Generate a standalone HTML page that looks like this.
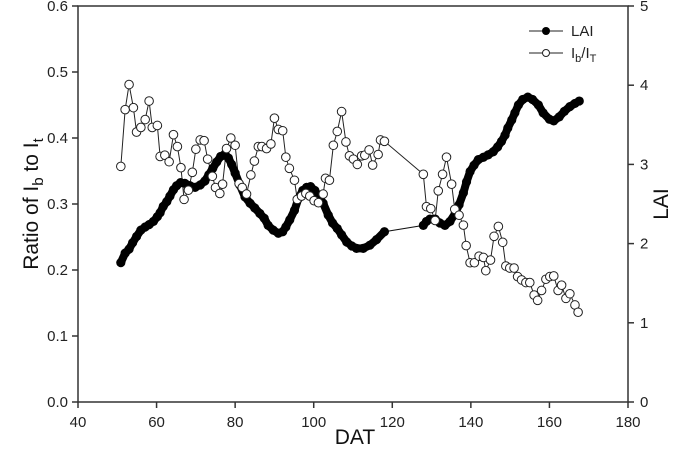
<!DOCTYPE html>
<html><head><meta charset="utf-8">
<style>
html,body{margin:0;padding:0;background:#fff;}
svg{display:block;font-family:"Liberation Sans",Arial,sans-serif;}
</style></head>
<body>
<svg id="chart" width="685" height="466" viewBox="0 0 685 466" xmlns="http://www.w3.org/2000/svg"></svg>
<script>
const xTicks=[40,60,80,100,120,140,160,180];
const yLeftTicks=["0.0","0.1","0.2","0.3","0.4","0.5","0.6"];
const yRightTicks=[0,1,2,3,4,5];
const ratioDays=[50.9,52,53,54.1,54.9,56,57.1,58.1,58.9,60.2,60.9,62.1,63.2,64.3,65.3,66.2,67,68.1,69.1,70,71.1,72.1,73,74.2,75,76.1,76.8,77.8,78.9,80,81,81.8,82.9,84,84.9,85.9,86.8,88,89.1,90,91,92.1,92.9,93.8,95.1,95.8,96.9,98,99,100.1,101.2,102.4,103,104,105,106,107.1,108.2,109.1,110.1,111.1,112.2,113,114.1,115,116.4,117,118,127.9,128.7,129.8,130.9,131.7,132.8,133.8,135.1,135.9,137,138.1,138.8,139.8,140.9,142.1,143.2,143.8,145,145.9,147,148.1,148.9,149.9,151,151.9,152.9,154,155,156.1,157,158,159.1,160.1,161.1,162.2,163.1,164.2,165.2,166.5,167.3];
const ratioValues=[0.357,0.443,0.481,0.446,0.409,0.416,0.428,0.456,0.416,0.419,0.372,0.374,0.364,0.405,0.387,0.355,0.307,0.321,0.348,0.383,0.397,0.396,0.368,0.342,0.325,0.316,0.33,0.384,0.4,0.389,0.331,0.325,0.315,0.344,0.365,0.387,0.387,0.384,0.391,0.43,0.413,0.411,0.371,0.354,0.336,0.307,0.312,0.316,0.312,0.305,0.302,0.315,0.339,0.336,0.389,0.41,0.44,0.394,0.373,0.368,0.36,0.373,0.374,0.382,0.359,0.375,0.397,0.395,0.345,0.296,0.293,0.275,0.32,0.345,0.371,0.33,0.292,0.283,0.268,0.237,0.211,0.211,0.221,0.219,0.199,0.215,0.251,0.266,0.242,0.206,0.203,0.203,0.19,0.185,0.181,0.181,0.162,0.154,0.169,0.186,0.19,0.191,0.169,0.177,0.157,0.164,0.147,0.136];
const laiDays=[50.9,52,53,53.9,54.9,56,57.1,58.1,59.2,60.2,60.9,61.7,62.6,63.4,64.3,65.1,66.1,67.2,68.5,69.8,71.1,72.3,73.3,74.3,75.3,76.3,77.4,78.3,79.1,80,81.2,82.5,83.8,85,86.3,87.4,88.4,89.7,91,92.1,92.9,93.9,95.1,96.1,97.2,98.2,99.2,100.3,101.4,102.4,103.7,104.8,106,107.1,108.4,109.7,110.9,112.6,114.3,116,118,127.9,128.7,129.6,130.9,132.1,133.4,134.7,136,137,138.1,138.9,139.8,140.8,141.9,143.2,144.4,145.7,146.8,147.8,148.7,149.4,150.4,151.2,152.1,153.2,154.5,155.7,157.2,158.4,160,161.1,162.5,163.8,165.2,166.5,167.6];
const laiValues=[1.76,1.88,1.93,2.01,2.09,2.17,2.21,2.24,2.28,2.34,2.39,2.47,2.53,2.6,2.68,2.73,2.77,2.76,2.73,2.71,2.74,2.79,2.87,2.95,3.03,3.1,3.13,3.08,3.0,2.89,2.74,2.59,2.51,2.45,2.38,2.32,2.23,2.17,2.13,2.15,2.21,2.3,2.42,2.57,2.67,2.71,2.72,2.67,2.59,2.51,2.36,2.26,2.19,2.11,2.02,1.97,1.94,1.94,1.98,2.05,2.15,2.23,2.28,2.31,2.31,2.26,2.23,2.28,2.38,2.49,2.64,2.78,2.91,2.99,3.06,3.09,3.12,3.16,3.22,3.29,3.37,3.46,3.56,3.65,3.75,3.82,3.85,3.82,3.75,3.65,3.57,3.55,3.6,3.67,3.73,3.77,3.8];

const L=78,R=628,T=6,B=402;
const xS=d=>L+(d-40)/140*(R-L);
const yL=v=>B-v/0.6*(B-T);
const yR=v=>B-v/5*(B-T);
const NS="http://www.w3.org/2000/svg";
const svg=document.getElementById('chart');
function mk(tag,attrs,parent){const e=document.createElementNS(NS,tag);for(const k in attrs)e.setAttribute(k,attrs[k]);(parent||svg).appendChild(e);return e;}

const frame=mk('rect',{x:L,y:T,width:R-L,height:B-T,fill:'none',stroke:'#333','stroke-width':1.5});



xTicks.forEach(t=>{
  const x=xS(t);
  const tk=mk('line',{x1:x,y1:B,x2:x,y2:B+6,stroke:'#333','stroke-width':1.5});
  
  
  const lb=mk('text',{x:x,y:B+25,'text-anchor':'middle','font-size':15,fill:'#222'});
  lb.textContent=t;
  
  
});
yLeftTicks.forEach(t=>{
  const y=yL(parseFloat(t));
  const tk=mk('line',{x1:L-6,y1:y,x2:L,y2:y,stroke:'#333','stroke-width':1.5});
  
  
  const lb=mk('text',{x:L-10,y:y+5,'text-anchor':'end','font-size':15,fill:'#222'});
  lb.textContent=t;
  
  
});
yRightTicks.forEach(t=>{
  const y=yR(t);
  const tk=mk('line',{x1:R,y1:y,x2:R+6,y2:y,stroke:'#333','stroke-width':1.5});
  
  
  const lb=mk('text',{x:R+12,y:y+5,'text-anchor':'start','font-size':15,fill:'#222'});
  lb.textContent=t;
  
  
});

const rp=ratioDays.map((d,i)=>xS(d)+','+yL(ratioValues[i])).join(' ');
const rl=mk('polyline',{points:rp,fill:'none',stroke:'#222','stroke-width':1});


const lp=laiDays.map((d,i)=>xS(d)+','+yR(laiValues[i])).join(' ');
const ll=mk('polyline',{points:lp,fill:'none',stroke:'#111','stroke-width':1});


// dense-marker band for consecutive daily measurements
for(let i=1;i<laiDays.length;i++){
  if(laiDays[i]-laiDays[i-1]<3){
    const s=mk('line',{x1:xS(laiDays[i-1]),y1:yR(laiValues[i-1]),x2:xS(laiDays[i]),y2:yR(laiValues[i]),stroke:'#000','stroke-width':8,'stroke-linecap':'round'});
    
    
  }
}
laiDays.forEach((d,i)=>{
  const c=mk('circle',{cx:xS(d),cy:yR(laiValues[i]),r:4.6,fill:'#000'});
  
  
});
ratioDays.forEach((d,i)=>{
  const c=mk('circle',{cx:xS(d),cy:yL(ratioValues[i]),r:4.3,fill:'#fff',stroke:'#222','stroke-width':1});
  
  
});
</script>
<svg style="position:absolute;left:0;top:0" width="685" height="466" xmlns="http://www.w3.org/2000/svg">
  <g font-family="Liberation Sans, Arial, sans-serif">
    <line x1="529" y1="31" x2="563" y2="31" stroke="#222" stroke-width="1"/>
    <circle cx="546" cy="31" r="4" fill="#000"/>
    <text x="571" y="36" font-size="15" fill="#222">LAI</text>
    <line x1="529" y1="53" x2="563" y2="53" stroke="#222" stroke-width="1"/>
    <circle cx="546" cy="53" r="3.5" fill="#fff" stroke="#222" stroke-width="1"/>
    <text x="571" y="58" font-size="15" fill="#222">I<tspan font-size="11" dy="4">b</tspan><tspan dy="-4">/I</tspan><tspan font-size="11" dy="4">T</tspan></text>
  </g>
  <text x="355" y="444" text-anchor="middle" font-size="21" fill="#111" font-family="Liberation Sans, Arial, sans-serif">DAT</text>
  <text transform="translate(38,204) rotate(-90)" text-anchor="middle" font-size="21" fill="#111" font-family="Liberation Sans, Arial, sans-serif">Ratio of I<tspan font-size="15" dy="5">b</tspan><tspan dy="-5"> to I</tspan><tspan font-size="15" dy="5">t</tspan></text>
  <text transform="translate(668,204) rotate(-90)" text-anchor="middle" font-size="21" fill="#111" font-family="Liberation Sans, Arial, sans-serif">LAI</text>
</svg>
</body></html>
